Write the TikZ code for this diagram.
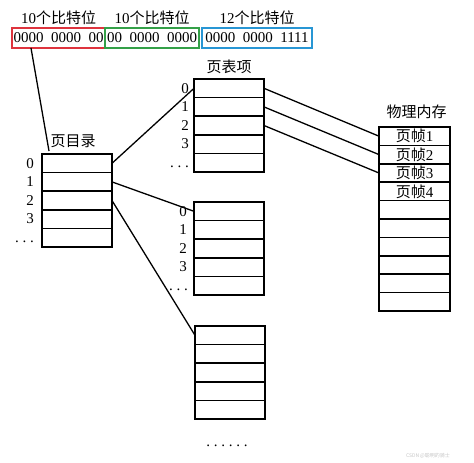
\documentclass[tikz,border=0pt]{standalone}
\usepackage{fontspec}
\setmainfont{Liberation Serif}
\newfontfamily\cjk{Noto Sans CJK SC}
\usepackage{tikz}
\usetikzlibrary{positioning}

\definecolor{addrred}{RGB}{222,52,62}
\definecolor{addrgreen}{RGB}{52,160,72}
\definecolor{addrblue}{RGB}{40,150,212}

\newcommand{\dotsrow}{.\hspace{0.25em}.\hspace{0.25em}.}

\tikzset{
  cell/.style={draw, line width=1.5pt, minimum width=70pt, minimum height=18.6pt, inner sep=0pt, outer sep=0pt},
  memcell/.style={cell, minimum width=71pt, minimum height=18.4pt},
  addrbox/.style={draw, line width=1.2pt, minimum height=20pt, inner sep=0pt, outer sep=0pt},
  idx/.style={anchor=east, inner sep=0pt},
  title/.style={inner sep=0pt, font=\fontsize{15}{18}\selectfont\cjk},
  link/.style={line width=1.3pt},
}

\begin{document}
\begin{tikzpicture}[x=1pt, y=-1pt, font=\fontsize{15}{18}\selectfont]
\useasboundingbox (0,0) rectangle (474,463);

% linear address
\node[addrbox, draw=addrred, minimum width=93pt] (addr-dir) at (58.5,38) {0000\enspace0000\enspace00};
\node[addrbox, draw=addrgreen, minimum width=94pt] (addr-tab) at (152,38) {00\enspace0000\enspace0000};
\node[addrbox, draw=addrblue, minimum width=110pt] (addr-off) at (257,38) {0000\enspace0000\enspace1111};
\node[inner sep=0pt, above=3pt of addr-dir] (bits-dir) {10{\cjk 个比特位}};
\node[inner sep=0pt, above=3pt of addr-tab] (bits-tab) {10{\cjk 个比特位}};
\node[inner sep=0pt, above=3pt of addr-off] (bits-off) {12{\cjk 个比特位}};

% page directory
\foreach \i in {0,...,4}
  \node[cell] (dir-\i) at (77,163.3+18.6*\i) {};
\foreach \i in {0,...,3}
  \node[idx] (dir-l\i) at ([xshift=-8pt]dir-\i.west) {\i};
\node[inner sep=0pt, anchor=base east] (dir-ldots) at ([xshift=-8pt, yshift=-5pt]dir-4.west) {\dotsrow};
\node[title, above=6pt of dir-0.north, xshift=-4pt] (dir-title) {页目录};

% page tables
\foreach \i in {0,...,4}
  \node[cell] (pt1-\i) at (229,88.3+18.6*\i) {};
\foreach \i in {0,...,3}
  \node[idx] (pt1-l\i) at ([xshift=-5pt]pt1-\i.west) {\i};
\node[inner sep=0pt, anchor=base east] (pt1-ldots) at ([xshift=-5pt, yshift=-5pt]pt1-4.west) {\dotsrow};
\node[title, above=5pt of pt1-0.north] (pt1-title) {页表项};

\foreach \i in {0,...,4}
  \node[cell] (pt2-\i) at (229,211.3+18.6*\i) {};
\foreach \i in {0,...,3}
  \node[idx] (pt2-l\i) at ([xshift=-7pt]pt2-\i.west) {\i};
\node[inner sep=0pt, anchor=base east] (pt2-ldots) at ([xshift=-6pt, yshift=-5pt]pt2-4.west) {\dotsrow};

\foreach \i in {0,...,4}
  \node[cell] (pt3-\i) at (230,335.3+18.6*\i) {};
\node[inner sep=0pt] (more) at (227,446) {\dotsrow\hspace{0.25em}\dotsrow};

% physical memory
\foreach \i/\n in {0/1,1/2,2/3,3/4}
  \node[memcell] (mem-\i) at (414.5,136.2+18.4*\i) {{\cjk 页帧}\n};
\foreach \i in {4,...,9}
  \node[memcell] (mem-\i) at (414.5,136.2+18.4*\i) {};
\node[title, above=8pt of mem-0.north, xshift=2pt] (mem-title) {物理内存};

% links
\draw[link] ([xshift=19pt]addr-dir.south west) -- ([xshift=7pt, yshift=3pt]dir-0.north west);
\draw[link] (dir-0.east) -- (pt1-0.west);
\draw[link] (dir-1.east) -- (pt2-0.west);
\draw[link] (dir-2.east) -- (pt3-0.west);
\foreach \i in {0,1,2}
  \draw[link] (pt1-\i.east) -- (mem-\i.west);

\node[text=gray!45, font=\fontsize{5}{6}\selectfont\cjk] (mark) at (428,456) {CSDN @聪明的骑士};
\end{tikzpicture}
\end{document}
